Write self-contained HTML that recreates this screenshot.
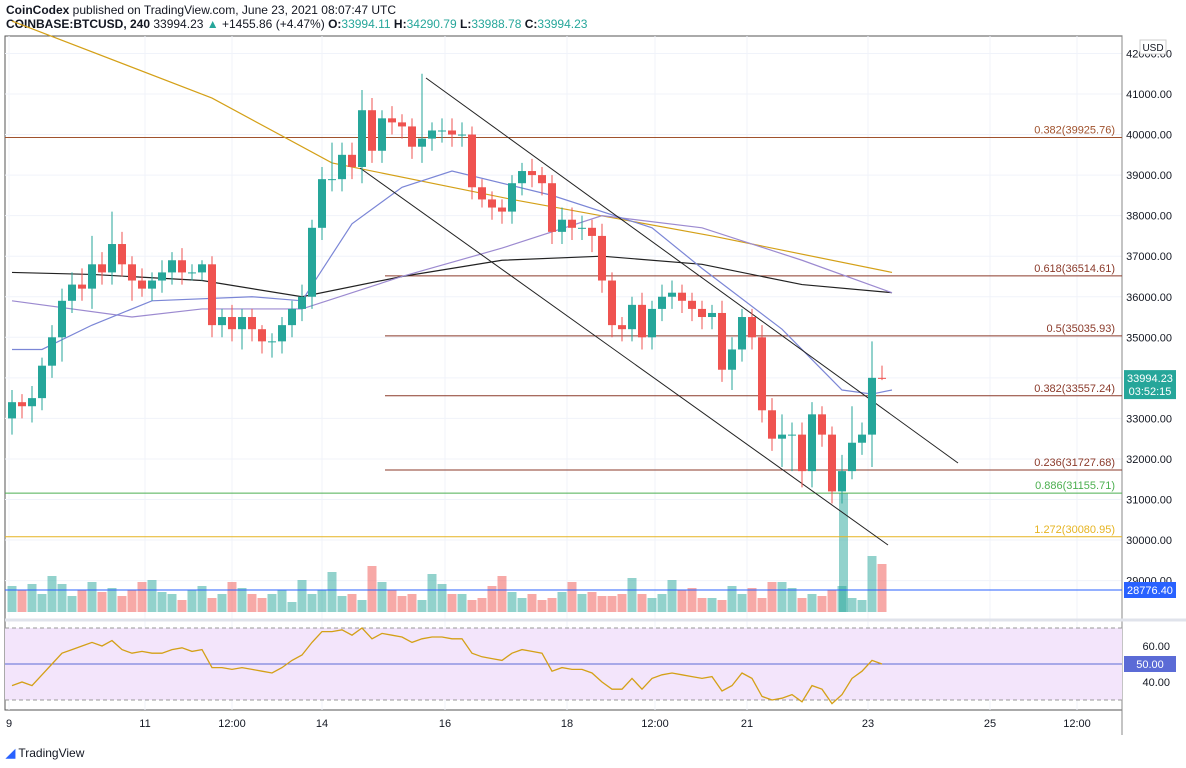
<!DOCTYPE html>
<html><head><meta charset="utf-8"><style>
body{margin:0;background:#fff;font-family:"Liberation Sans",sans-serif;}
#wrap{position:relative;width:1186px;height:768px;overflow:hidden;}
.hdr{position:absolute;left:6px;font-size:12px;color:#131722;white-space:nowrap}
</style></head><body>
<div id="wrap">
<div class="hdr" style="top:3px"><b>CoinCodex</b> published on TradingView.com, June 23, 2021 08:07:47 UTC</div>
<div class="hdr" style="top:17px"><b>COINBASE:BTCUSD, 240</b> 33994.23 <span style="color:#26a69a">▲</span> +1455.86 (+4.47%) <b>O:</b><span style="color:#26a69a">33994.11</span> <b>H:</b><span style="color:#26a69a">34290.79</span> <b>L:</b><span style="color:#26a69a">33988.78</span> <b>C:</b><span style="color:#26a69a">33994.23</span></div>
<svg id="c" width="1186" height="768" style="position:absolute;left:0;top:0"></svg>
<div style="position:absolute;left:6px;top:746px;font-size:12px;color:#131722"><span style="color:#2962ff;font-weight:bold">◢</span> TradingView</div>
</div>
<script>
const closes=[33400,33300,33500,34300,35000,35900,36300,36200,36800,36600,37300,36800,36400,36200,36400,36600,36900,36600,36600,36800,35300,35500,35200,35500,35200,34900,34900,35300,35700,36000,37700,38900,38900,39500,39200,40600,39600,40400,40300,40200,39700,39900,40100,40100,40000,40000,38700,38400,38200,38100,38800,39100,39000,38800,37600,37900,37700,37700,37500,36400,35300,35200,35800,35000,35700,36000,36100,35900,35700,35500,35600,34200,34700,35500,35000,33200,32500,32600,32600,31700,33100,32600,31200,31700,32400,32600,34000,33994];
const firstOpen=33000;
const wickUp=[300,200,300,200,300,300,300,400,700,300,800,300,200,300,200,300,200,300,200,100,200,200,300,200,200,100,200,200,200,300,200,300,900,300,300,500,300,200,300,200,200,1600,200,300,300,300,200,200,200,200,200,200,300,200,200,300,300,300,200,300,200,200,200,300,200,300,300,200,200,200,200,300,300,200,200,300,300,500,300,300,300,200,200,400,900,300,900,300];
const wickDn=[400,300,400,300,300,600,300,300,500,300,300,300,500,200,300,300,300,300,200,200,300,300,300,500,300,300,400,300,300,300,300,300,300,300,300,400,300,300,300,300,300,400,300,300,300,300,300,200,300,300,300,300,300,300,300,300,300,300,400,300,300,300,300,300,300,300,300,300,300,300,300,300,500,300,300,300,300,700,900,400,400,300,300,300,200,300,800,50];
const volumes=[26,22,28,18,36,28,16,22,30,20,24,16,22,30,32,20,18,12,22,26,14,18,30,24,18,14,18,22,10,32,18,22,40,16,18,12,46,30,22,16,18,12,38,28,18,18,12,14,26,36,20,14,18,12,14,20,30,18,20,16,16,18,34,18,14,18,32,22,24,14,14,12,26,18,24,14,30,30,24,14,18,16,22,26,14,12,56,48,52,12,16,12,20,40,34,42,16].slice(0,88);
const rsi=[38,40,38,44,50,56,58,60,62,60,63,58,56,57,56,56,58,59,57,58,48,48,47,48,47,46,45,48,52,55,62,68,68,69,66,70,64,67,66,65,62,64,65,65,64,64,56,54,53,52,56,58,57,56,46,48,47,47,45,40,36,36,42,36,42,44,45,44,43,42,43,35,38,45,42,32,30,31,33,29,38,36,28,33,42,46,52,50];
const ma200=[[0,42800],[20,40900],[32,39300],[50,38400],[70,37500],[88,36600]];
const ma100=[[0,36600],[8,36550],[19,36400],[29,36000],[39,36500],[49,36900],[59,37000],[69,36800],[79,36300],[88,36100]];
const ma50=[[0,35900],[12,35500],[19,35700],[29,35700],[39,36500],[49,37200],[59,38000],[69,37700],[79,36900],[88,36100]];
const ma20=[[0,34700],[3,34700],[8,35300],[14,35900],[24,36000],[29,35900],[34,37800],[39,38700],[44,39100],[54,38500],[64,37700],[69,36700],[77,35200],[83,33700],[86,33600],[88,33700]];
const fibs=[[39925.76,"0.382(39925.76)","#a0522d",5],[36514.61,"0.618(36514.61)","#8b3a2a",385],[35035.93,"0.5(35035.93)","#8b3a2a",385],[33557.24,"0.382(33557.24)","#8b3a2a",385],[31727.68,"0.236(31727.68)","#8b3a2a",385],[31155.71,"0.886(31155.71)","#4caf50",5],[30080.95,"1.272(30080.95)","#e6b422",5]];
const priceTicks=[42000,41000,40000,39000,38000,37000,36000,35000,34000,33000,32000,31000,30000,29000];
const rsiTicks=[60,40];
const dayLabels=[["9",9],["11",145],["12:00",232],["14",322],["16",445],["18",567],["12:00",655],["21",747],["23",868],["25",990],["12:00",1077]];

const S=document.getElementById('c');const NS='http://www.w3.org/2000/svg';
function el(t,a,p){const e=document.createElementNS(NS,t);for(const k in a)e.setAttribute(k,a[k]);(p||S).appendChild(e);return e;}
const y=p=>94+(41000-p)*0.04055;
const x=i=>12+i*10;
const ry=v=>664-(v-50)*1.8;
const volY=v=>612-v;
// frame
let g=el('rect',{x:5,y:36,width:1117,height:674,fill:'none',stroke:'#555','stroke-width':1});

dayLabels.forEach(d=>{const l=el('line',{x1:d[1],x2:d[1],y1:36,y2:710,stroke:'#f0f3fa'});
const t=el('text',{x:d[1],y:727,'font-size':11,fill:'#131722','text-anchor':'middle'});t.textContent=d[0];});
priceTicks.forEach(p=>{const l=el('line',{x1:5,x2:1122,y1:y(p),y2:y(p),stroke:'#f0f3fa'});
const t=el('text',{x:1172,y:y(p)+4,'font-size':11,fill:'#131722','text-anchor':'end'});t.textContent=p.toFixed(2);});
let u=el('rect',{x:1140,y:40,width:26,height:14,fill:'#fff',stroke:'#ccc'});
let ut=el('text',{x:1153,y:51,'font-size':10,'text-anchor':'middle',fill:'#131722'});ut.textContent='USD';
// axis separators
let sp=el('line',{x1:1122,x2:1122,y1:36,y2:735,stroke:'#888'});
let sp2=el('line',{x1:5,x2:1186,y1:620,y2:620,stroke:'#e0e3eb','stroke-width':3});
// volume
closes.forEach((c,i)=>{const o=i?closes[i-1]:firstOpen;const v=volumes[i]||10;const r=el('rect',{x:x(i)-4.5,y:volY(v),width:9,height:v,fill:c>=o?'rgba(38,166,154,0.5)':'rgba(239,83,80,0.5)'});});
let big=el('rect',{x:x(82)+7,y:y(31150),width:9,height:612-y(31150),fill:'rgba(38,166,154,0.5)'});
// fibs
fibs.forEach(f=>{const l=el('line',{x1:f[3],x2:1122,y1:y(f[0]),y2:y(f[0]),stroke:f[2],'stroke-width':1});
const t=el('text',{x:1115,y:y(f[0])-4,'font-size':11,fill:f[2],'text-anchor':'end'});t.textContent=f[1];});
let bl=el('line',{x1:5,x2:1122,y1:590,y2:590,stroke:'#2962ff'});
// MAs
function ma(arr,col,name){const p=el('polyline',{points:arr.map(a=>x(a[0])+','+y(a[1])).join(' '),fill:'none',stroke:col,'stroke-width':1.2});}
ma(ma200,'#d4a017','ma-200-line');ma(ma100,'#222','ma-100-line');ma(ma50,'#9c8ad0','ma-50-line');ma(ma20,'#7b86d6','ma-20-line');
// channel
let c1=el('line',{x1:426,y1:78,x2:958,y2:463,stroke:'#222'});
let c2=el('line',{x1:360,y1:168,x2:888,y2:545,stroke:'#222'});
// candles
closes.forEach((c,i)=>{const o=i?closes[i-1]:firstOpen;const col=c>=o?'#26a69a':'#ef5350';
const hi=Math.max(o,c)+wickUp[i],lo=Math.min(o,c)-wickDn[i];
const w=el('line',{x1:x(i),x2:x(i),y1:y(hi),y2:y(lo),stroke:col});
const b=el('rect',{x:x(i)-4,y:y(Math.max(o,c)),width:8,height:Math.max(1,Math.abs(y(o)-y(c))),fill:col});});
// price badges
function badge(yy,txt,col,name,h){const r=el('rect',{x:1124,y:yy-8,width:52,height:h||16,fill:col});
txt.forEach((s,k)=>{const t=el('text',{x:1150,y:yy+4+k*13,'font-size':11,fill:'#fff','text-anchor':'middle'});t.textContent=s;});}
badge(y(33994),['33994.23','03:52:15'],'#26a69a','last-price-badge',29);
badge(590,['28776.40'],'#2962ff','volume-level-badge');
// RSI
let rb=el('rect',{x:5,y:ry(70),width:1117,height:ry(30)-ry(70),fill:'#f3e5fb'});
[70,30].forEach(v=>{const l=el('line',{x1:5,x2:1122,y1:ry(v),y2:ry(v),stroke:'#999','stroke-dasharray':'4,3'});});
let rm=el('line',{x1:5,x2:1122,y1:ry(50),y2:ry(50),stroke:'#5b6bd6'});
rsiTicks.forEach(v=>{const t=el('text',{x:1170,y:ry(v)+4,'font-size':11,fill:'#131722','text-anchor':'end'});t.textContent=v.toFixed(2);});
let rl=el('polyline',{points:rsi.map((v,i)=>x(i)+','+ry(v)).join(' '),fill:'none',stroke:'#d4a017','stroke-width':1.3});
badge(664,['50.00'],'#5b6bd6','rsi-mid-badge');
</script>
</body></html>
